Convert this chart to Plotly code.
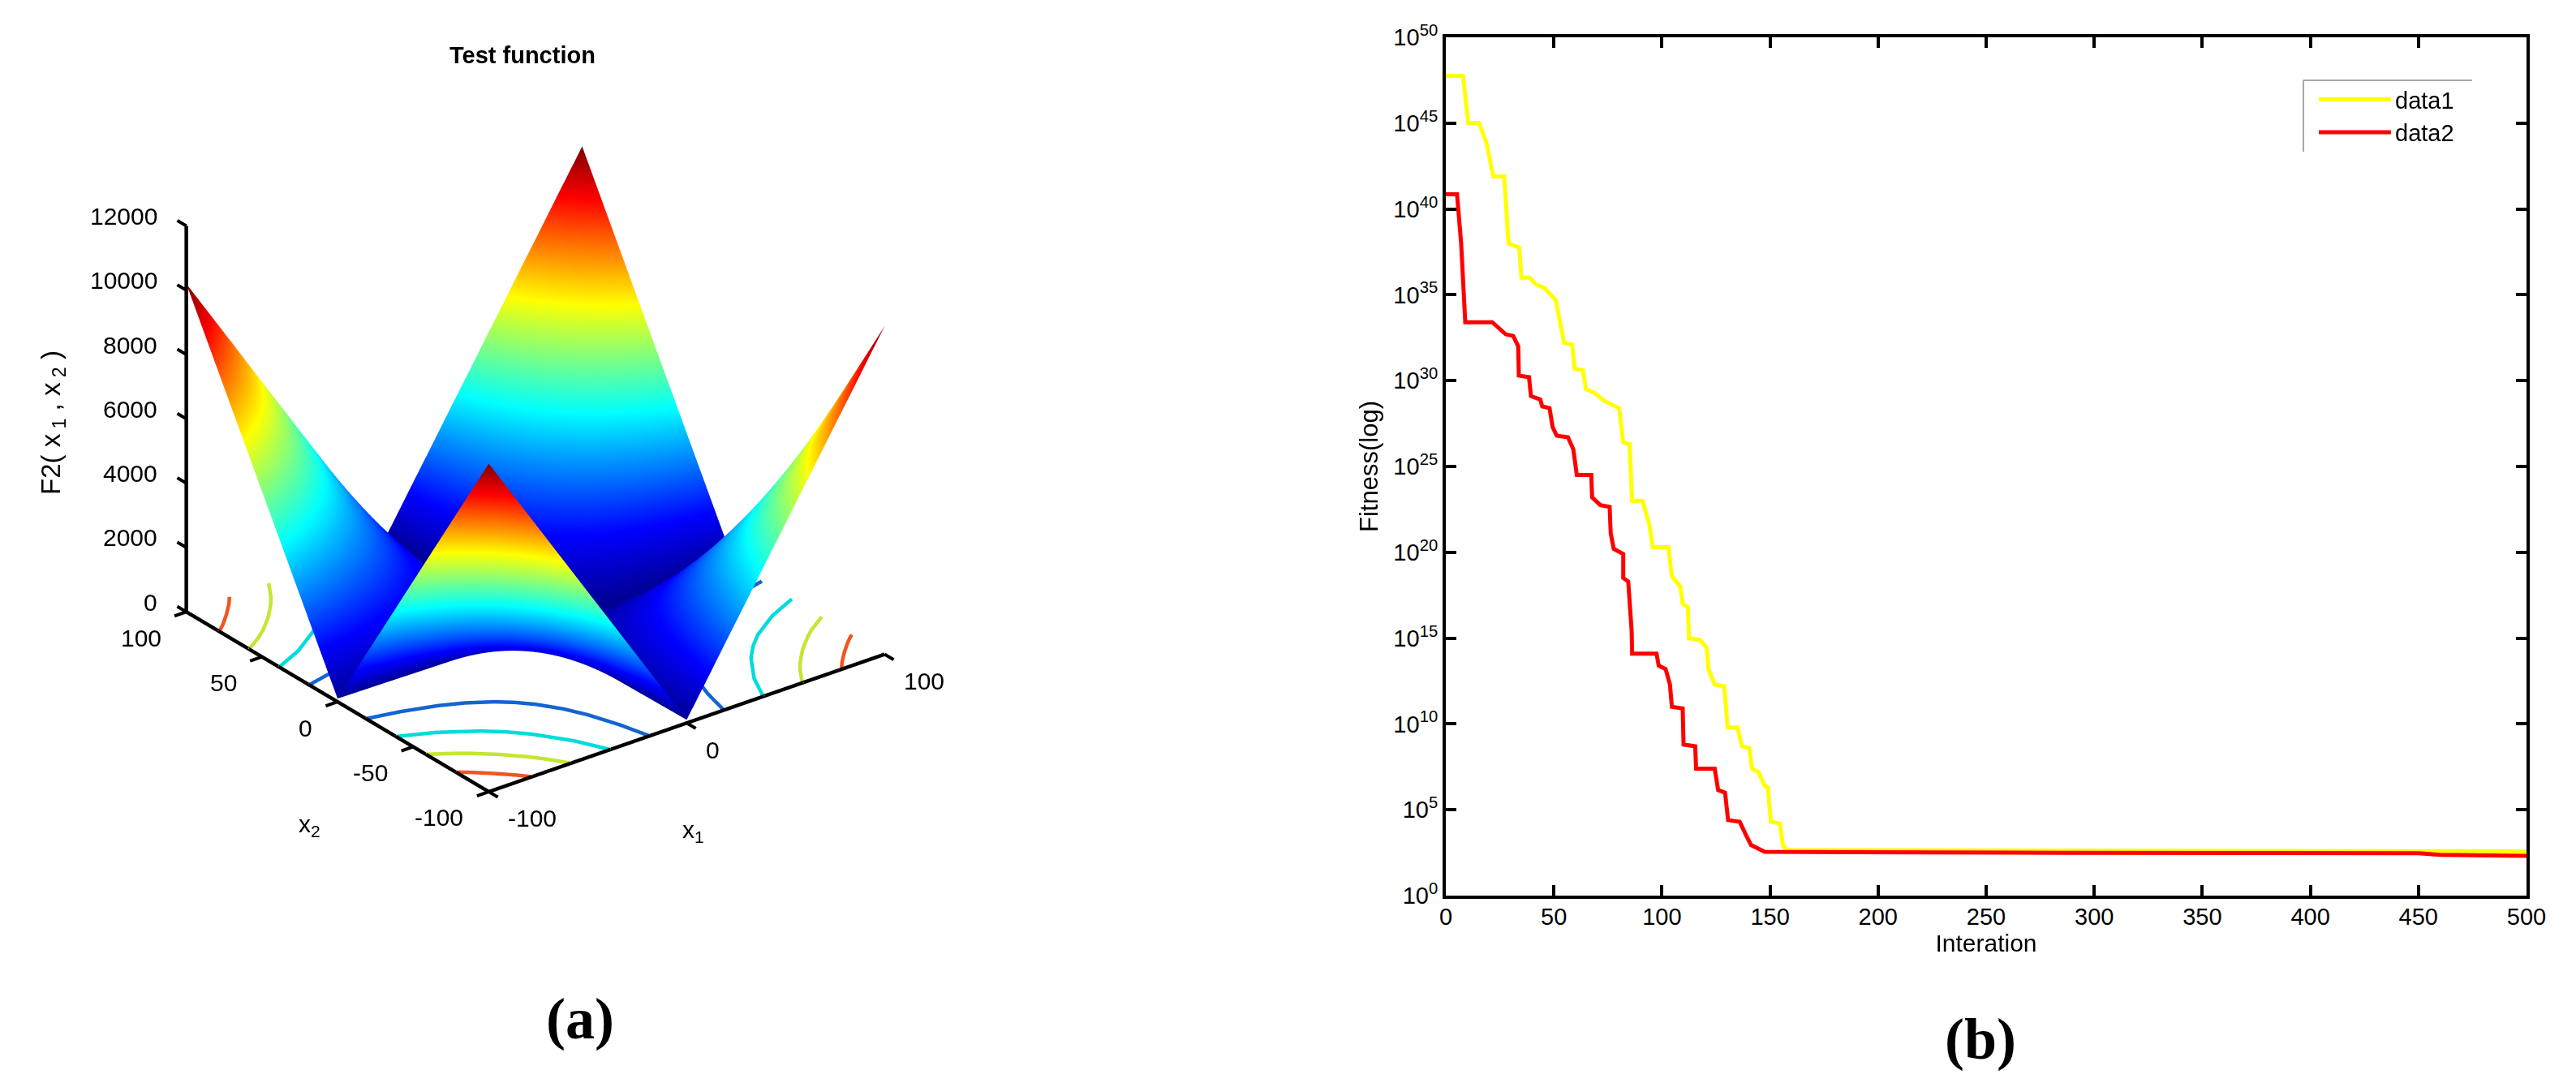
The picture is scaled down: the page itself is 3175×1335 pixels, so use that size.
import math
import plotly.graph_objects as go

# ---------- (b) convergence curves: iteration vs log10(fitness) ----------
yellow_iter = [0,8,10.4,15.4,18.7,22,27,29,34,35,38.8,41.7,45.6,50.8,54.8,58.5,59.6,63.5,64.8,68.7,73.5,80.2,82.1,85,86.2,91,94.2,95.8,103,104.6,108.5,109.6,112,112.5,117.7,120.8,121.5,124.4,128.8,130.4,135,137,140.4,141.7,144.6,147.5,149,150.4,154.6,156,158,300,478,500]
yellow_exp = [47.75,47.75,45,45,43.9,41.9,41.9,38,37.75,36,36,35.6,35.4,34.7,32.2,32.1,30.7,30.6,29.5,29.3,28.8,28.4,26.4,26.3,23,23,21.6,20.3,20.3,18.6,18,17,16.8,15,14.9,14.4,13.2,12.3,12.2,9.8,9.8,8.7,8.6,7.4,7.2,6.4,6.3,4.3,4.2,2.9,2.65,2.62,2.6,2.58]
red_iter = [0,5.2,7.1,9,21.5,24.4,27.7,31.2,33.5,33.8,38.5,39.4,43.7,44.6,48,49.4,51.3,56.5,59,60.6,67.3,67.7,71.5,75.8,76.3,77.7,82.1,82.1,84.4,86,86.2,97.5,98.5,101.7,103.7,104.6,109.6,110,115.4,115.8,124.4,126,129.2,130.6,136,138.8,141.2,147.5,255,260,450,460,500]
red_exp = [40.85,40.85,38,33.4,33.4,33.1,32.7,32.6,32,30.3,30.2,29.1,28.9,28.5,28.4,27.3,26.8,26.7,26,24.5,24.5,23.2,22.75,22.65,21.1,20.2,19.9,18.5,18.3,15.4,14.1,14.1,13.4,13.2,12.3,11,10.9,8.8,8.7,7.4,7.4,6.15,6,4.4,4.3,3.55,2.95,2.55,2.55,2.5,2.47,2.38,2.31]
x_ticks = [0,50,100,150,200,250,300,350,400,450,500]
y_tick_exp = [0,5,10,15,20,25,30,35,40,45,50]

# ---------- (a) surface samples ----------
x1_vals = [-100,-50,0,50,100]
x2_vals = [-100,-50,0,50,100]
f2_vals = [
    [10200,5150,100,5150,10200],
    [5150,2600,50,2600,5150],
    [100,50,0,50,100],
    [5150,2600,50,2600,5150],
    [10200,5150,100,5150,10200],
]
z_ticks = [0,2000,4000,6000,8000,10000,12000]
x1_ticks = [-100,0,100]
x2_ticks = [-100,-50,0,50,100]

# one quadrant of each floor contour (|x1|, |x2|)
c2000_a = [100,85,70,60,50,43.7,38.2,31.8,27.2,22.3,18.8]
c2000_b = [18.8,22.3,27.2,31.8,38.2,43.7,50,60,70,85,100]
c4000_a = [100,85,70,62.3,55.4,45.5,38.6]
c4000_b = [38.6,45.5,55.4,62.3,70,85,100]
c6000_a = [100,90,85,76.5,68.8,64.9,58.4]
c6000_b = [58.4,64.9,68.8,76.5,85,90,100]
c8000_a = [100,95,88.5,82.3,78.2]
c8000_b = [78.2,82.3,88.5,95,100]
contour_sets = [(c2000_a,c2000_b,'#1464D2'),(c4000_a,c4000_b,'#00DCDC'),
                (c6000_a,c6000_b,'#C4E632'),(c8000_a,c8000_b,'#F0561E')]

W, H = 3175, 1335
VIEW = (-0.541, -0.708, 0.4547)
PX_PER_MODEL = 616.0
ZSPAN = 12000/0.87   # z data per model unit
XSPAN = 200.0        # x/y data per model unit


def ribbon(polylines, color, width_px):
    """Camera-facing strip for each polyline (WebGL lines cannot be thick)."""
    hw = width_px/2/PX_PER_MODEL
    vx, vy, vz, ii, jj, kk = [], [], [], [], [], []
    for pts in polylines:
        m = [(p[0]/XSPAN, p[1]/XSPAN, p[2]/ZSPAN) for p in pts]
        n = len(m)
        base = len(vx)
        for t in range(n):
            a = m[max(t-1, 0)]
            b = m[min(t+1, n-1)]
            d = (b[0]-a[0], b[1]-a[1], b[2]-a[2])
            c = (d[1]*VIEW[2]-d[2]*VIEW[1], d[2]*VIEW[0]-d[0]*VIEW[2], d[0]*VIEW[1]-d[1]*VIEW[0])
            L = math.sqrt(sum(q*q for q in c)) or 1.0
            c = tuple(q/L*hw for q in c)
            for s in (1, -1):
                vx.append((m[t][0]+s*c[0])*XSPAN)
                vy.append((m[t][1]+s*c[1])*XSPAN)
                vz.append((m[t][2]+s*c[2])*ZSPAN)
        for t in range(n-1):
            q = base+2*t
            ii += [q, q+1]
            jj += [q+1, q+3]
            kk += [q+2, q+2]
    return go.Mesh3d(x=vx, y=vy, z=vz, i=ii, j=jj, k=kk, color=color, flatshading=True,
                     lighting=dict(ambient=1, diffuse=0, specular=0, roughness=1, fresnel=0),
                     hoverinfo='skip', showlegend=False, scene='scene')


fig = go.Figure()

JET = [[0,'rgb(0,0,143)'],[0.125,'rgb(0,0,255)'],[0.375,'rgb(0,255,255)'],
       [0.625,'rgb(255,255,0)'],[0.875,'rgb(255,0,0)'],[1,'rgb(128,0,0)']]

fig.add_trace(go.Surface(x=x1_vals, y=x2_vals, z=f2_vals, colorscale=JET, cmin=0, cmax=10200,
                         showscale=False, hoverinfo='skip',
                         lighting=dict(ambient=1, diffuse=0, specular=0, roughness=1, fresnel=0),
                         scene='scene', showlegend=False))

for a, b, col in contour_sets:
    lines = []
    for sx, sy in [(-1,-1),(1,-1),(-1,1),(1,1)]:
        lines.append([(sx*u, sy*v, 0) for u, v in zip(a, b)])
    fig.add_trace(ribbon(lines, col, 4.5))

# axis frame and ticks of the 3-D box, from the tick lists
axis_lines = [[(-100,-100,0),(-100,100,0)], [(-100,-100,0),(100,-100,0)], [(-100,100,0),(-100,100,12000)]]
tick_lines = ([[(-100,100,z),(-100,106,z)] for z in z_ticks]
              + [[(-100,y,0),(-106,y,0)] for y in x2_ticks]
              + [[(x,-100,0),(x,-106,0)] for x in x1_ticks])
fig.add_trace(ribbon(axis_lines, 'black', 4.5))
fig.add_trace(ribbon(tick_lines, 'black', 4))

hidden = dict(visible=False)
tick_font = dict(family='Liberation Sans', size=30, color='black')
scene_notes = []
for z in z_ticks:
    scene_notes.append(dict(x=-100, y=100, z=z, text=str(z), showarrow=False, xanchor='right',
                            xshift=-34, yshift=12, font=tick_font))
for y in x2_ticks:
    scene_notes.append(dict(x=-100, y=y, z=0, text=str(y), showarrow=False, xanchor='right',
                            xshift=-29, yshift=-32, font=tick_font))
for x in x1_ticks:
    scene_notes.append(dict(x=x, y=-100, z=0, text=str(x), showarrow=False, xanchor='left',
                            xshift=22, yshift=-33, font=tick_font))

fig.update_layout(scene=dict(
    domain=dict(x=[0, 1320/W], y=[1-1085/H, 1]),
    aspectmode='manual', aspectratio=dict(x=1.245, y=1.245, z=1.083),
    camera=dict(projection=dict(type='orthographic'),
                up=dict(x=0,y=0,z=1), center=dict(x=0,y=0,z=0),
                eye=dict(x=VIEW[0]*2, y=VIEW[1]*2, z=VIEW[2]*2)),
    xaxis=dict(hidden, range=[-110,110]),
    yaxis=dict(hidden, range=[-110,110]),
    zaxis=dict(hidden, range=[-600,12600]),
    annotations=scene_notes,
))

fig.add_trace(go.Scatter(x=yellow_iter, y=[10.0**e for e in yellow_exp], name='data1', mode='lines',
                         line=dict(color='#FFFF00', width=5), xaxis='x', yaxis='y'))
fig.add_trace(go.Scatter(x=red_iter, y=[10.0**e for e in red_exp], name='data2', mode='lines',
                         line=dict(color='#FF0000', width=5), xaxis='x', yaxis='y'))

axfont = dict(family='Liberation Sans', size=29, color='black')
note_base = dict(xref='paper', yref='paper', showarrow=False, xanchor='center', yanchor='middle')
sans = lambda s: dict(family='Liberation Sans', size=s, color='black')
serif = dict(family='Liberation Serif', size=72, color='black')
fig.update_layout(
    width=W, height=H, autosize=False, margin=dict(l=0,r=0,t=0,b=0,autoexpand=False),
    paper_bgcolor='white', plot_bgcolor='white', font=axfont,
    xaxis=dict(domain=[1782/W, 3114/W], range=[0,500], tickvals=x_ticks,
               ticks='inside', ticklen=13, tickwidth=4, tickcolor='black',
               showline=True, linecolor='black', linewidth=4, mirror='ticks',
               showgrid=False, zeroline=False, tickfont=axfont, ticklabelstandoff=-3,
               title=dict(text='Interation', font=sans(30), standoff=8)),
    yaxis=dict(domain=[1-1104/H, 1-46/H], type='log', range=[0,50],
               tickvals=[10.0**e for e in y_tick_exp],
               ticktext=['10<sup>%d</sup>' % e for e in y_tick_exp],
               ticks='inside', ticklen=13, tickwidth=4, tickcolor='black',
               showline=True, linecolor='black', linewidth=4, mirror='ticks',
               showgrid=False, zeroline=False, tickfont=axfont, ticklabelstandoff=0,
               title=dict(text='Fitness(log)', font=sans(31), standoff=11)),
    legend=dict(x=2853/W, y=1-97/H, xanchor='left', yanchor='top', bgcolor='rgba(0,0,0,0)',
                font=sans(29), itemwidth=89, borderwidth=0),
    shapes=[dict(type='line', xref='paper', yref='paper', x0=2839/W, x1=3047/W, y0=1-99/H, y1=1-99/H,
                 line=dict(color='#A8A8A8', width=2)),
            dict(type='line', xref='paper', yref='paper', x0=2839/W, x1=2839/W, y0=1-99/H, y1=1-187/H,
                 line=dict(color='#A8A8A8', width=2))],
    annotations=[
        dict(note_base, text='<b>Test function</b>', x=644/W, y=1-68/H, font=sans(29)),
        dict(note_base, text='F2( x<sub> 1</sub> , x<sub> 2</sub> )', x=65/W, y=1-521/H, textangle=-90, font=sans(33)),
        dict(note_base, text='x<sub>2</sub>', x=381/W, y=1-1017/H, font=sans(30)),
        dict(note_base, text='x<sub>1</sub>', x=854/W, y=1-1024/H, font=sans(30)),
        dict(note_base, text='<b>(a)</b>', x=715/W, y=1-1256/H, font=serif),
        dict(note_base, text='<b>(b)</b>', x=2441/W, y=1-1281/H, font=serif),
    ],
)

fig.write_html("out.html", config=dict(displayModeBar=False),
               post_script="document.body.style.margin='0';document.body.style.overflow='hidden';")
